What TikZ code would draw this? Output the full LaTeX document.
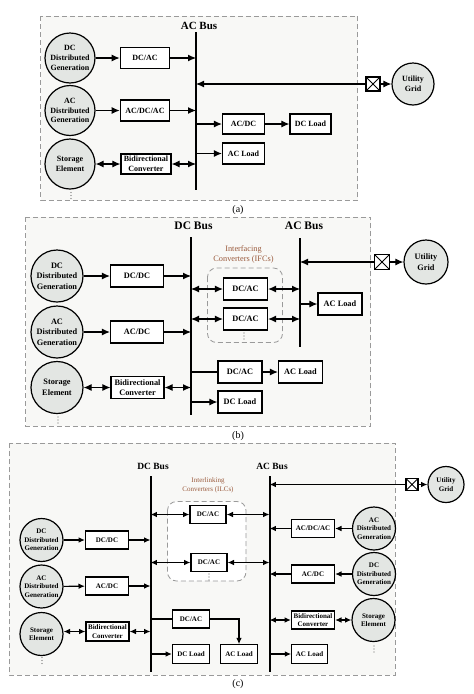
\documentclass[tikz,border=0pt]{standalone}
\usepackage{fontspec}
\setmainfont{Liberation Serif}
\usetikzlibrary{arrows.meta}

\definecolor{panelfill}{HTML}{F8F8F6}
\definecolor{framegray}{HTML}{9A9A9A}
\definecolor{sourcefill}{HTML}{E3E6E3}
\definecolor{ifcbrown}{HTML}{9A5A3C}

\tikzset{
  panel/.style={draw=framegray, fill=panelfill, line width=0.8pt, dash pattern=on 5pt off 3pt},
  group/.style={draw=framegray, line width=0.8pt, dash pattern=on 5pt off 3pt, rounded corners=9pt},
  bus/.style={line width=2pt},
  arr/.style={line width=1.1pt, -{Latex[length=8pt,width=7pt,scale=#1]}},
  arr/.default=1,
  biarr/.style={line width=1.1pt, {Latex[length=8pt,width=7pt,scale=#1]}-{Latex[length=8pt,width=7pt,scale=#1]}},
  biarr/.default=1,
  source/.style={circle, draw, fill=sourcefill, line width=1.2pt, inner sep=0pt, align=center, minimum size=#1},
  conv/.style 2 args={draw, fill=white, line width=1.2pt, inner sep=0pt, align=center, minimum width=#1, minimum height=#2},
  switchbox/.style={draw, fill=white, line width=1.2pt, inner sep=0pt, minimum size=#1,
    path picture={\draw[line width=0.9pt] (path picture bounding box.north west) -- (path picture bounding box.south east)
      (path picture bounding box.north east) -- (path picture bounding box.south west);}},
  fonta/.style={font=\bfseries\fontsize{8}{9.7}\selectfont},
  fontb/.style={font=\bfseries\fontsize{8.3}{10.5}\selectfont},
  fontc/.style={font=\bfseries\fontsize{7}{8.3}\selectfont},
  buslabel/.style={font=\bfseries\fontsize{#1}{#1}\selectfont},
  caption/.style={font=\fontsize{10}{10}\selectfont},
  ifctext/.style 2 args={text=ifcbrown, align=center, font=\fontsize{#1}{#2}\selectfont},
  moredot/.style={fill=black!60}
}

\begin{document}
\begin{tikzpicture}[x=1pt, y=-1pt]

\useasboundingbox (0,0) rectangle (474,694);

% panel a
\draw[panel] (40.5,16) rectangle (357.5,200);

\coordinate (acbusa1) at (196,32);
\coordinate (acbusa2) at (196,190);
\draw[bus] (acbusa1) -- (acbusa2);
\node[buslabel=11] at (199,26) (acbusa) {AC Bus};

\foreach \nm/\yy/\txt in {dg1/58/{DC\\Distributed\\Generation}, dg2/110.5/{AC\\Distributed\\Generation}, stor/164/{Storage\\Element}}
  \node[source=50pt, fonta] at (70,\yy) (a\nm) {\txt};

\node[conv={49.5pt}{21pt}, fonta] at (145,58) (aconv1) {DC/AC};
\node[conv={49.5pt}{21pt}, fonta] at (145,110.5) (aconv2) {AC/DC/AC};
\node[conv={50pt}{20pt}, fonta] at (146,164) (aconv3) {Bidirectional\\Converter};
\node[conv={42pt}{20pt}, fonta] at (243.5,124) (aconv4) {AC/DC};
\node[conv={41pt}{20pt}, fonta] at (310.5,124) (aload1) {DC Load};
\node[conv={42pt}{21pt}, fonta] at (243.5,153.5) (aload2) {AC Load};
\node[switchbox=14pt] at (373,84) (asw) {};
\node[source=42pt, fonta] at (413,84) (agrid) {Utility\\Grid};
\node[caption] at (238,210) (capa) {(a)};

\foreach \yy in {192.5,195.5,198.5}
  \fill[moredot] (71,\yy) circle (0.6);

\draw[arr] (adg1) -- (aconv1);
\draw[arr] (adg2) -- (aconv2);
\draw[biarr] (astor) -- (aconv3);
\draw[arr] (aconv1) -- (aconv1 -| acbusa1);
\draw[arr] (aconv2) -- (aconv2 -| acbusa1);
\draw[biarr] (aconv3) -- (aconv3 -| acbusa1);
\draw[arr] (aconv4 -| acbusa1) -- (aconv4);
\draw[arr] (aconv4) -- (aload1);
\draw[arr] (aload2 -| acbusa1) -- (aload2);
\draw[arr] (asw) -- (asw -| acbusa1);
\draw[arr] (asw) -- (agrid);

% panel b
\draw[panel] (25.5,217) rectangle (370.5,426);
\draw[group] (207.5,268) rectangle (282.5,342.5);

\coordinate (dcbusb1) at (191,237);
\coordinate (dcbusb2) at (191,415);
\coordinate (acbusb1) at (300,238);
\coordinate (acbusb2) at (300,347);
\draw[bus] (dcbusb1) -- (dcbusb2);
\draw[bus] (acbusb1) -- (acbusb2);
\node[buslabel=11.5] at (193.5,226) (dcbusb) {DC Bus};
\node[buslabel=11.5] at (304,226) (acbusb) {AC Bus};
\node[ifctext={8.3}{10.4}] at (243.5,254.5) (ifcb) {Interfacing\\Converters (IFCs)};

\foreach \nm/\yy/\txt in {dg1/276/{DC\\Distributed\\Generation}, dg2/332/{AC\\Distributed\\Generation}, stor/387.5/{Storage\\Element}}
  \node[source=52pt, fontb] at (57,\yy) (b\nm) {\txt};

\node[conv={53pt}{22pt}, fontb] at (137,276) (bconv1) {DC/DC};
\node[conv={53pt}{22pt}, fontb] at (137,332) (bconv2) {AC/DC};
\node[conv={53pt}{22.5pt}, fontb] at (137.5,387.5) (bconv3) {Bidirectional\\Converter};
\node[conv={44pt}{22pt}, fontb] at (245.5,289) (bifc1) {DC/AC};
\node[conv={44pt}{22pt}, fontb] at (245.5,319) (bifc2) {DC/AC};
\node[conv={44pt}{22pt}, fontb] at (340,304) (bload1) {AC Load};
\node[conv={44pt}{22pt}, fontb] at (240,372) (bconv4) {DC/AC};
\node[conv={44pt}{22pt}, fontb] at (300.5,372) (bload2) {AC Load};
\node[conv={44pt}{22pt}, fontb] at (240,402) (bload3) {DC Load};
\node[switchbox=15pt] at (382,262) (bsw) {};
\node[source=44pt, fontb] at (426,262) (bgrid) {Utility\\Grid};
\node[caption] at (238,436) (capb) {(b)};

\foreach \yy in {417,420,423}
  \fill[moredot] (58,\yy) circle (0.6);
\foreach \yy in {333,336,339}
  \fill[moredot] (244,\yy) circle (0.6);

\draw[arr] (bdg1) -- (bconv1);
\draw[arr] (bdg2) -- (bconv2);
\draw[biarr] (bstor) -- (bconv3);
\draw[arr] (bconv1) -- (bconv1 -| dcbusb1);
\draw[arr] (bconv2) -- (bconv2 -| dcbusb1);
\draw[biarr] (bconv3) -- (bconv3 -| dcbusb1);
\foreach \n in {1,2} {
  \draw[biarr] (bifc\n -| dcbusb1) -- (bifc\n);
  \draw[biarr] (bifc\n) -- (bifc\n -| acbusb1);
}
\draw[arr] (bload1 -| acbusb1) -- (bload1);
\draw[line width=1.1pt] (bconv4 -| dcbusb1) -- (bconv4);
\draw[arr] (bconv4) -- (bload2);
\draw[arr] (bload3 -| dcbusb1) -- (bload3);
\draw[arr] (bsw) -- (bsw -| acbusb1);
\draw[arr] (bsw) -- (bgrid);

% panel c
\draw[panel] (9,443) rectangle (395,675);
\draw[group, fill=white] (167.5,501.5) rectangle (246,581);

\coordinate (dcbusc1) at (150.5,476);
\coordinate (dcbusc2) at (150.5,672);
\coordinate (acbusc1) at (269.5,476);
\coordinate (acbusc2) at (269.5,672);
\draw[bus] (dcbusc1) -- (dcbusc2);
\draw[bus] (acbusc1) -- (acbusc2);
\node[buslabel=9.5] at (153,466) (dcbusc) {DC Bus};
\node[buslabel=9.5] at (272,466) (acbusc) {AC Bus};
\node[ifctext={7}{8.8}] at (208,485.5) (ifcc) {Interlinking\\Converters (ILCs)};

\foreach \nm/\xx/\yy/\txt in {dg1/41.5/540/{DC\\Distributed\\Generation}, dg2/41.5/586.5/{AC\\Distributed\\Generation}, stor/41.5/634/{Storage\\Element},
  dg3/374/528.5/{AC\\Distributed\\Generation}, dg4/374/574/{DC\\Distributed\\Generation}, stor2/373.5/620/{Storage\\Element}}
  \node[source=43pt, fontc] at (\xx,\yy) (c\nm) {\txt};

\node[conv={43pt}{18pt}, fontc] at (107,540) (cconv1) {DC/DC};
\node[conv={43pt}{18pt}, fontc] at (107,586) (cconv2) {AC/DC};
\node[conv={43pt}{19pt}, fontc] at (107.5,631.5) (cconv3) {Bidirectional\\Converter};
\node[conv={43pt}{18pt}, fontc] at (313,528.5) (cconv5) {AC/DC/AC};
\node[conv={43pt}{18pt}, fontc] at (313,574) (cconv6) {AC/DC};
\node[conv={43pt}{18pt}, fontc] at (313,620) (cconv7) {Bidirectional\\Converter};
\node[conv={36pt}{18pt}, fontc] at (208,514.5) (cifc1) {DC/AC};
\node[conv={36pt}{18pt}, fontc] at (209,562.5) (cifc2) {DC/AC};
\node[conv={37pt}{18pt}, fontc] at (191,619) (cconv4) {DC/AC};
\node[conv={37pt}{18.5pt}, fontc] at (191,654) (cload1) {DC Load};
\node[conv={36.5pt}{18.5pt}, fontc] at (239,654) (cload2) {AC Load};
\node[conv={35.5pt}{18.5pt}, fontc] at (309.5,654) (cload3) {AC Load};
\node[switchbox=12pt] at (412,484.5) (csw) {};
\node[source=36pt, fontc] at (446,484.5) (cgrid) {Utility\\Grid};
\node[caption] at (238,684) (capc) {(c)};

\foreach \xx/\yy in {42/657.5,42/660.5,42/663.5,374/646,374/649,374/652,209/574,209/577,209/580}
  \fill[moredot] (\xx,\yy) circle (0.6);

\draw[arr=0.8] (cdg1) -- (cconv1);
\draw[arr=0.8] (cdg2) -- (cconv2);
\draw[biarr=0.8] (cconv3 -| cstor.east) -- (cconv3);
\draw[arr=0.8] (cconv1) -- (cconv1 -| dcbusc1);
\draw[arr=0.8] (cconv2) -- (cconv2 -| dcbusc1);
\draw[biarr=0.8] (cconv3) -- (cconv3 -| dcbusc1);
\draw[arr=0.8] (cdg3) -- (cconv5);
\draw[arr=0.8] (cdg4) -- (cconv6);
\draw[biarr=0.8] (cstor2) -- (cconv7);
\draw[arr=0.8] (cconv5) -- (cconv5 -| acbusc1);
\draw[arr=0.8] (cconv6) -- (cconv6 -| acbusc1);
\draw[biarr=0.8] (cconv7) -- (cconv7 -| acbusc1);
\foreach \n in {1,2} {
  \draw[biarr=0.8] (cifc\n -| dcbusc1) -- (cifc\n);
  \draw[biarr=0.8] (cifc\n) -- (cifc\n -| acbusc1);
}
\draw[line width=1.1pt] (cconv4 -| dcbusc1) -- (cconv4);
\draw[arr=0.8] (cconv4) -| (cload2);
\draw[arr=0.8] (cload1 -| dcbusc1) -- (cload1);
\draw[arr=0.8] (cload3 -| acbusc1) -- (cload3);
\draw[arr=0.8] (csw) -- (csw -| acbusc1);
\draw[arr=0.8] (csw) -- (cgrid);

\end{tikzpicture}
\end{document}
